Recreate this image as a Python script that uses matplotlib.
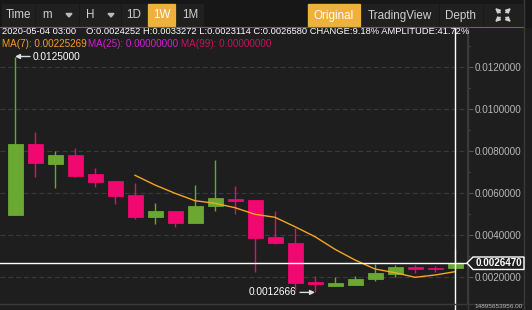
"""
K-line chart (1W) with MA(7) overlay, dark exchange-style theme
"""

import numpy as np
import matplotlib
matplotlib.use("Agg")
import matplotlib.pyplot as plt
from matplotlib.patches import Rectangle, Polygon
from matplotlib.ticker import FixedLocator, FormatStrFormatter

plt.rcParams['font.family'] = ['Liberation Sans', 'DejaVu Sans']

# --- data (weekly candles) ---
opens = [0.00497, 0.00833, 0.00740, 0.00781, 0.00690, 0.00657, 0.00590, 0.00487,
         0.00514, 0.00459, 0.00540, 0.00571, 0.00567, 0.00392, 0.00363, 0.00178,
         0.00157, 0.00162, 0.00189, 0.00214, 0.00246, 0.00243, 0.0024252]
highs = [0.01250, 0.00890, 0.00799, 0.00813, 0.00718, 0.00657, 0.00646, 0.00551,
         0.00514, 0.00638, 0.00757, 0.00633, 0.00567, 0.00514, 0.00435, 0.00205,
         0.00201, 0.00205, 0.00260, 0.00257, 0.00257, 0.00252, 0.0033272]
lows = [0.00497, 0.00678, 0.00626, 0.00678, 0.00627, 0.00546, 0.00476, 0.00451,
        0.00440, 0.00459, 0.00516, 0.00499, 0.00222, 0.00356, 0.00138, 0.0012666,
        0.00157, 0.00162, 0.00181, 0.00199, 0.00218, 0.00225, 0.0023114]
closes = [0.00833, 0.00743, 0.00781, 0.00682, 0.00654, 0.00587, 0.00487, 0.00514,
          0.00459, 0.00538, 0.00576, 0.00562, 0.00387, 0.00360, 0.00173, 0.00165,
          0.00170, 0.00189, 0.00220, 0.00246, 0.00237, 0.00238, 0.0026580]

# MA(7) as drawn (starts at the 7th candle)
ma7 = [0.006843, 0.006381, 0.005986, 0.005633, 0.005510, 0.005300, 0.004986,
       0.004843, 0.004395, 0.003919, 0.003319, 0.002810, 0.002381, 0.002205,
       0.001986, 0.002095, 0.0022527]
ma7_start = 6

price_ticks = [0.002, 0.004, 0.006, 0.008, 0.010, 0.012]
crosshair_price = 0.0026470
volume_label = "14895653956.00"

info_date = "2020-05-04 03:00"
info_ohlc = "O:0.0024252 H:0.0033272 L:0.0023114 C:0.0026580 CHANGE:9.18% AMPLITUDE:41.72%"
ma_labels = [("MA(7): 0.00225269", '#f0a030'),
             ("MA(25): 0.00000000", '#d21ed2'),
             ("MA(99): 0.00000000", '#c8145a')]

# --- colours ---
BG = '#1e1e1e'
BAR_BG = '#171717'
BTN_BG = '#202020'
UP = '#6aa832'
DOWN = '#f0076f'
GRID = '#3a3a3a'
ORANGE = '#f0b03c'
TXT = '#cfcfcf'

W, H = 532, 310
fig = plt.figure(figsize=(W / 100, H / 100), dpi=100)
fig.patch.set_facecolor(BG)

# main price axes: x 0..467 px, y 28..303 px
ax = fig.add_axes([0, 7 / H, 467 / W, 275 / H])
ax.set_facecolor(BG)
ax.set_xlim(-0.75, -0.75 + 467 / 20)
ax.set_ylim(16 / 21000, 291 / 21000)

idx = np.arange(len(opens))
o = np.array(opens)
c = np.array(closes)
colors = [UP if cc >= oo else DOWN for oo, cc in zip(o, c)]

ax.vlines(idx, lows, highs, colors=colors, linewidth=1, zorder=2)
ax.bar(idx, np.abs(c - o), bottom=np.minimum(o, c), width=0.75,
       color=colors, edgecolor=colors, linewidth=0.6, zorder=3)

ax.plot(idx[ma7_start:], ma7, color='#f5a623', linewidth=1, zorder=4)

# grid + price scale on the right
ax.yaxis.set_major_locator(FixedLocator(price_ticks))
ax.yaxis.set_minor_locator(FixedLocator([t + 0.001 for t in price_ticks]))
ax.yaxis.set_major_formatter(FormatStrFormatter('%.7f'))
ax.grid(axis='y', color=GRID, linestyle=(0, (4.5, 2.5)), linewidth=0.8)
ax.yaxis.tick_right()
ax.tick_params(axis='y', which='major', length=4, pad=1.5, color='#555555',
               labelcolor='#b8b8b8', labelsize=7.1)
ax.tick_params(axis='y', which='minor', length=2.5, color='#555555')
ax.tick_params(axis='x', bottom=False, labelbottom=False)
for side in ['top', 'left', 'bottom']:
    ax.spines[side].set_visible(False)
ax.spines['right'].set_color(GRID)

# crosshair
ax.axhline(crosshair_price, color='white', linewidth=1, zorder=5)
ax.axvline(idx[-1], ymin=-7 / 275, ymax=1, color='white', linewidth=1,
           zorder=5, clip_on=False)

# high / low markers
hi = int(np.argmax(highs))
lo = int(np.argmin(lows))
arrow = dict(arrowstyle='-|>', color='#dddddd', lw=1, shrinkA=0, shrinkB=0,
             mutation_scale=7)
ax.annotate('', xy=(hi, highs[hi]), xytext=(15, 0), textcoords='offset pixels',
            xycoords='data', arrowprops=arrow)
ax.annotate(f'{highs[hi]:.7f}', xy=(hi, highs[hi]), xytext=(18, 0),
            textcoords='offset pixels', ha='left', va='center',
            color='white', fontsize=7.3)
ax.annotate('', xy=(lo, lows[lo]), xytext=(-15, 0), textcoords='offset pixels',
            arrowprops=arrow)
ax.annotate(f'{lows[lo]:.7f}', xy=(lo, lows[lo]), xytext=(-19, 0),
            textcoords='offset pixels', ha='right', va='center',
            color='white', fontsize=7.3)

# --- UI overlay in pixel coordinates ---
ui = fig.add_axes([0, 0, 1, 1], zorder=10)
ui.set_xlim(0, W)
ui.set_ylim(H, 0)
ui.axis('off')
ui.patch.set_alpha(0)

ui.add_patch(Rectangle((0, 0), W, 27, color=BAR_BG, zorder=0))
ui.plot([0, 523], [27, 27], color='#6e6a3c', linewidth=0.8)

# buttons: (label, x0, x1, active)
buttons = [("Time", 2, 34, False), ("m", 36, 78, False), ("H", 80, 120, False),
           ("1D", 122, 146, False), ("1W", 148, 175, True), ("1M", 177, 203, False),
           ("Original", 308, 360, True), ("TradingView", 362, 438, False),
           ("Depth", 440, 482, False), ("", 484, 522, False)]
for label, x0, x1, active in buttons:
    ui.add_patch(Rectangle((x0, 4), x1 - x0, 22, color=ORANGE if active else BTN_BG,
                           zorder=1))
    if label in ("m", "H"):
        ui.text(x0 + 6, 15.5, label, ha='left', va='center', fontsize=8.4,
                color=TXT, zorder=2)
        ui.add_patch(Polygon([[x1 - 12, 13.5], [x1 - 6, 13.5], [x1 - 9, 17]],
                             color='#bbbbbb', zorder=2))
    elif label:
        ui.text((x0 + x1) / 2, 15.5, label, ha='center', va='center', fontsize=8.4,
                color='white' if active else TXT, zorder=2)

# expand icon
cx, cy = 503, 15
for dx, dy in [(-1, -1), (1, -1), (-1, 1), (1, 1)]:
    ui.annotate('', xy=(cx + 8 * dx, cy + 7 * dy), xytext=(cx + 3 * dx, cy + 2.5 * dy),
                arrowprops=dict(arrowstyle='-|>', color='#cfcfcf', lw=1.3,
                                shrinkA=0, shrinkB=0, mutation_scale=6))

# frame lines
ui.plot([523.5, 523.5], [0, H], color=GRID, linewidth=1)
ui.plot([467.5, 467.5], [27, H], color=GRID, linewidth=1)
ui.plot([0, 523], [303.5, 303.5], color=GRID, linewidth=1)

# info lines
ui.text(2, 31.5, info_date, ha='left', va='center', fontsize=6.75, color='white')
ui.text(86, 31.5, info_ohlc, ha='left', va='center', fontsize=6.75, color='white')
for (label, col), x in zip(ma_labels, [2, 88, 181]):
    ui.text(x, 44, label, ha='left', va='center', fontsize=7.1, color=col)

# crosshair price tag
ui.add_patch(Polygon([[467, 263], [473, 257], [524, 257], [524, 269.5], [473, 269.5]],
                     facecolor=BG, edgecolor='white', linewidth=1, zorder=3))
ui.text(476, 263.5, f'{crosshair_price:.7f}', ha='left', va='center',
        fontsize=7.1, color='white', fontweight='bold', zorder=4)

# volume scale label (sits right at the bottom edge)
ui.text(474, 304.2, volume_label, ha='left', va='top', fontsize=4.6, color='#b8b8b8')

fig.savefig('out.png', dpi=100, facecolor=BG)
plt.close(fig)
